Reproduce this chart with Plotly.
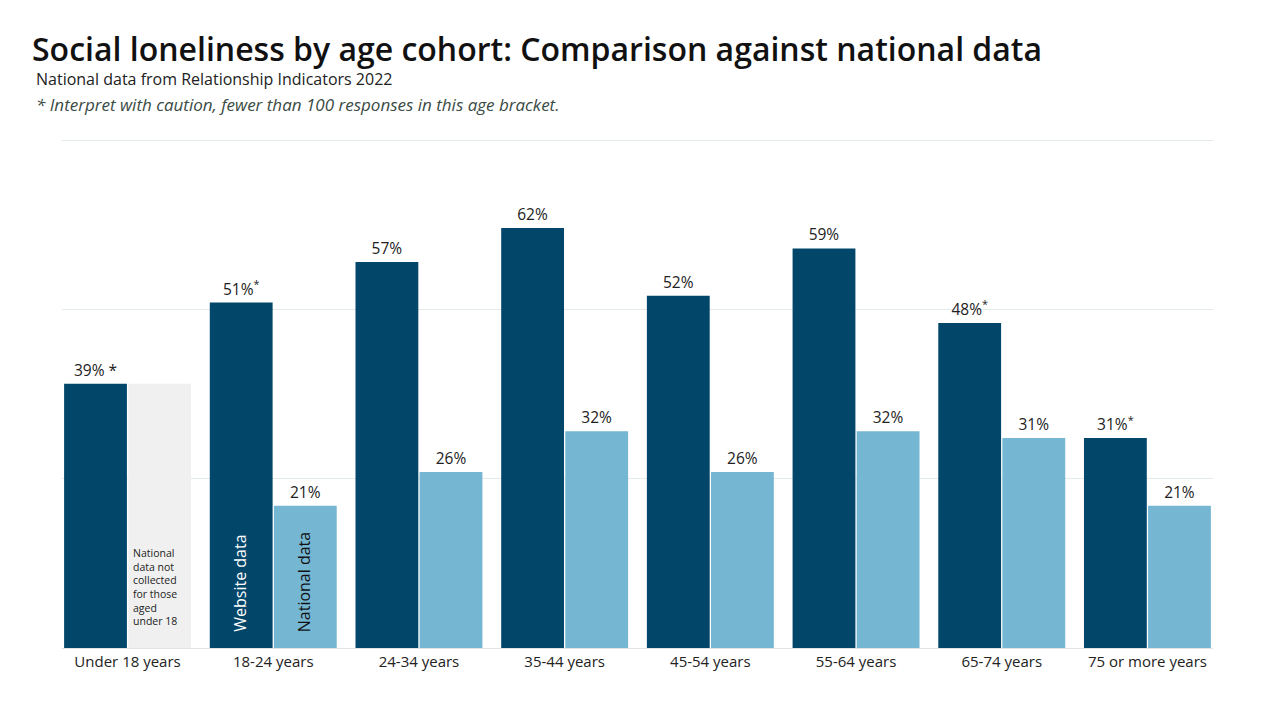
import plotly.graph_objects as go

categories = ["Under 18 years", "18-24 years", "24-34 years", "35-44 years",
              "45-54 years", "55-64 years", "65-74 years", "75 or more years"]
website = [39, 51, 57, 62, 52, 59, 48, 31]
website_labels = ["39% *", "51%<sup>*</sup>", "57%", "62%", "52%", "59%", "48%<sup>*</sup>", "31%<sup>*</sup>"]
national = [None, 21, 26, 32, 26, 32, 31, 21]
national_labels = ["", "21%", "26%", "32%", "26%", "32%", "31%", "21%"]
placeholder_height = 39  # grey "not collected" block for under 18

DARK = "#02476a"
LIGHT = "#75b6d2"
GREY = "#f0f0f0"
FONT = "Open Sans"

nat_y = [placeholder_height if v is None else v for v in national]
nat_colors = [GREY if v is None else LIGHT for v in national]

fig = go.Figure()
fig.add_trace(go.Bar(
    x=categories, y=website, name="Website data", marker_color=DARK,
    marker_line_width=0, text=website_labels, textposition="outside",
    textfont=dict(size=15.5, color="#222222", family=FONT), cliponaxis=False,
))
fig.add_trace(go.Bar(
    x=categories, y=nat_y, name="National data", marker_color=nat_colors,
    marker_line_width=0, text=national_labels, textposition="outside",
    textfont=dict(size=15.5, color="#222222", family=FONT), cliponaxis=False,
))

fig.update_layout(
    width=1280, height=720,
    barmode="group", bargap=0.12, bargroupgap=0.02,
    plot_bgcolor="white", paper_bgcolor="white",
    showlegend=False,
    margin=dict(l=62, r=67, t=138, b=72),
    font=dict(family=FONT, color="#222222"),
    xaxis=dict(range=[-0.45, 7.45], tickfont=dict(size=15, color="#222222"),
               showline=True, linecolor="#e3e3e3", linewidth=1, ticks="",
               showgrid=False),
    yaxis=dict(range=[0, 75.3], tickvals=[25, 50, 75], showticklabels=False,
               gridcolor="#e3ebe7", gridwidth=1, zeroline=False, fixedrange=True),
)

fig.add_annotation(xref="paper", yref="paper", x=-0.028, y=1.175, xanchor="left", yanchor="middle",
                   text="Social loneliness by age cohort: Comparison against national data",
                   showarrow=False, font=dict(size=32, color="#111111", family=FONT, weight=600))
fig.add_annotation(xref="paper", yref="paper", x=-0.024, y=1.116, xanchor="left", yanchor="middle",
                   text="National data from Relationship Indicators 2022",
                   showarrow=False, font=dict(size=16, color="#222222", family=FONT))
fig.add_annotation(xref="paper", yref="paper", x=-0.024, y=1.066, xanchor="left", yanchor="middle",
                   text="<i>* Interpret with caution, fewer than 100 responses in this age bracket.</i>",
                   showarrow=False, font=dict(size=17, color="#3a4a44", family=FONT))

# in-bar series labels
fig.add_annotation(x=1, y=0, xshift=-34, yshift=14, text="Website data", textangle=-90,
                   xanchor="center", yanchor="bottom", showarrow=False,
                   font=dict(size=16, color="white", family=FONT))
fig.add_annotation(x=1, y=0, xshift=31, yshift=14, text="National data", textangle=-90,
                   xanchor="center", yanchor="bottom", showarrow=False,
                   font=dict(size=16, color="#111111", family=FONT))
fig.add_annotation(x=0, y=0, xshift=3, yshift=18, xanchor="left", yanchor="bottom", align="left",
                   text="National<br>data not<br>collected<br>for those<br>aged<br>under 18",
                   showarrow=False, font=dict(size=10.5, color="#222222", family=FONT))

fig.write_html("out.html")
